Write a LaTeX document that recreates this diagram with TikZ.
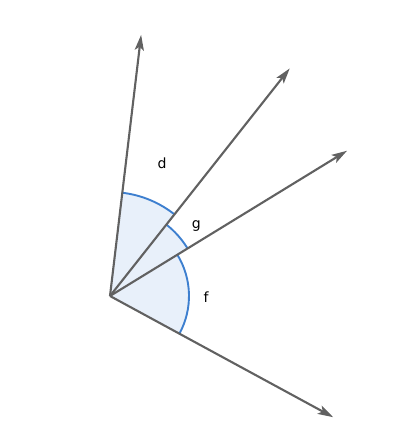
\documentclass[tikz,border=0pt]{standalone}
\usepackage{fontspec}
\setmainfont{DejaVu Sans}
\usetikzlibrary{positioning, arrows.meta, calc}
\definecolor{raygray}{HTML}{616161}
\definecolor{arcblue}{HTML}{3D7FCF}
\definecolor{arcfill}{HTML}{E8F0FA}

\begin{document}
\begin{tikzpicture}[x=0.025cm, y=0.025cm,
		ray/.style={draw=raygray, line width=1.5pt, -{Stealth[length=11pt, width=6.5pt, inset=2.5pt]}},
		anglearc/.style={draw=arcblue, line width=1.35pt},
		anglelbl/.style={font=\fontsize{10}{12}\selectfont, text=black}]
		
		\useasboundingbox (-110,-141) rectangle (302,296);
		
		%Points
		\coordinate (O) at (0,0);
		\coordinate (tipA) at (83.2:263);
		\coordinate (tipB) at (51.7:290);
		\coordinate (tipC) at (31.5:278);
		\coordinate (tipD) at (-28.5:254);
		
		%Sectors
		\fill [arcfill] (O) -- (83.2:104) arc [start angle=83.2, end angle=51.7, radius=104] -- cycle;
		\fill [arcfill] (O) -- (51.7:91) arc [start angle=51.7, end angle=31.5, radius=91] -- cycle;
		\fill [arcfill] (O) -- (31.5:79) arc [start angle=31.5, end angle=-28.5, radius=79] -- cycle;
		\draw [anglearc] (83.2:104) arc [start angle=83.2, end angle=51.7, radius=104];
		\draw [anglearc] (51.7:91) arc [start angle=51.7, end angle=31.5, radius=91];
		\draw [anglearc] (31.5:79) arc [start angle=31.5, end angle=-28.5, radius=79];
		
		%Rays
		\path [ray] (O) -- (tipA);
		\path [ray] (O) -- (tipB);
		\path [ray] (O) -- (tipC);
		\path [ray] (O) -- (tipD);
		
		%Labels
		\node [anglelbl] (lbld) at (68.6:143) {d};
		\node [anglelbl] (lblg) at (39:111) {g};
		\node [anglelbl] (lblf) at (-0.6:96) {f};
		
\end{tikzpicture}
\end{document}
